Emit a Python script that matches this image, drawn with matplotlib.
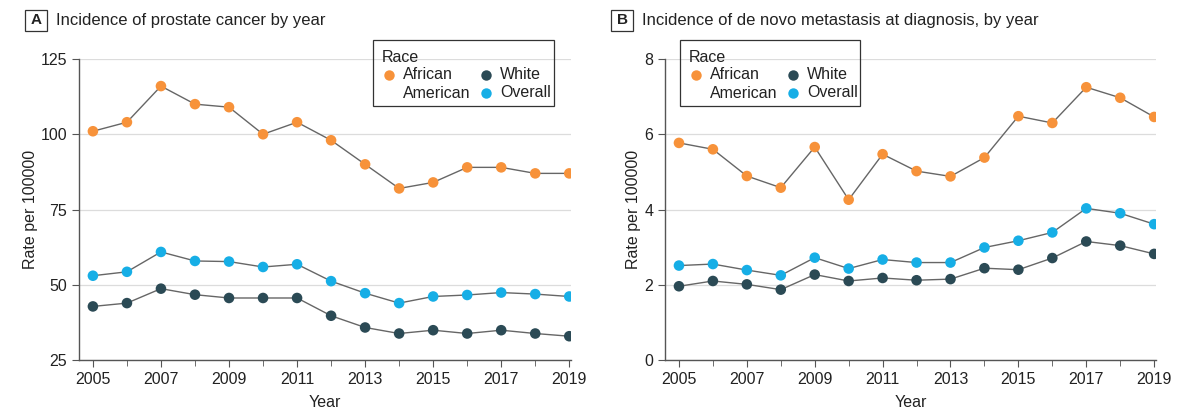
import matplotlib.pyplot as plt
from matplotlib.patches import Rectangle

plt.rcParams['font.family'] = ['Liberation Sans', 'DejaVu Sans']

years = list(range(2005, 2020))

# Panel A: incidence of prostate cancer
inc_aa = [101, 104, 116, 110, 109, 100, 104, 98, 90, 82, 84, 89, 89, 87, 87]
inc_white = [42.8, 43.9, 48.7, 46.7, 45.6, 45.6, 45.6, 39.7, 35.8, 33.8, 34.9, 33.8, 34.9, 33.8, 32.9]
inc_all = [53.0, 54.3, 60.9, 57.9, 57.7, 55.9, 56.8, 51.2, 47.2, 43.9, 46.1, 46.6, 47.4, 46.9, 46.1]

# Panel B: de novo metastasis at diagnosis
met_aa = [5.77, 5.60, 4.89, 4.58, 5.66, 4.26, 5.47, 5.02, 4.88, 5.38, 6.48, 6.30, 7.25, 6.97, 6.46]
met_white = [1.96, 2.10, 2.01, 1.87, 2.27, 2.10, 2.18, 2.12, 2.15, 2.44, 2.40, 2.71, 3.15, 3.04, 2.82]
met_all = [2.51, 2.55, 2.39, 2.25, 2.72, 2.43, 2.67, 2.59, 2.59, 2.99, 3.17, 3.39, 4.03, 3.90, 3.61]

labels = ['African\nAmerican', 'White', 'Overall']

c_aa = '#F7923A'
c_white = '#2B4A55'
c_all = '#16AEE6'
c_line = '#666666'
c_text = '#222222'

W, H = 1200, 417
fig = plt.figure(figsize=(12, 4.17), dpi=100)


def fx(px):
    return px / W


def fy(py):
    return 1 - py / H


def legend_box(x0, w):
    # hand-built legend: "Race" title, two columns
    fig.patches.append(Rectangle((fx(x0), fy(106)), fx(w), 66 / H, transform=fig.transFigure,
                                 fill=False, edgecolor='#333333', lw=0.9))
    fig.text(fx(x0 + 9), fy(58), 'Race', fontsize=11.5, ha='left', va='center', color=c_text)
    cols = [c_aa, c_white, c_all]
    pos = [(x0 + 16, 75), (x0 + 113, 75), (x0 + 113, 93)]
    for col, lab, (mx, my) in zip(cols, labels, pos):
        fig.lines.append(plt.Line2D([fx(mx)], [fy(my)], marker='o', ms=7.5, color=col, mec='none',
                                    ls='none', transform=fig.transFigure))
        fig.text(fx(mx + 14), fy(my - 8), lab, fontsize=11.5, ha='left', va='top', color=c_text,
                 linespacing=1.3)


def panel(rect, letter, title, series, yticks, ylim, leg_x, leg_w):
    ax = fig.add_axes(rect)
    for vals, col in series:
        ax.plot(years, vals, color=c_line, lw=1.0, zorder=2)
        ax.scatter(years, vals, s=58, color=col, zorder=3, edgecolors='none')
    ax.set_xlim(2004.59, 2019.05)
    ax.set_ylim(*ylim)
    ax.set_yticks(yticks)
    ax.set_xticks(years, minor=True)
    ax.set_xticks(range(2005, 2020, 2))
    ax.tick_params(axis='both', which='both', direction='out', color='#555555', labelcolor=c_text, labelsize=11.5)
    ax.tick_params(axis='x', which='major', length=5)
    ax.tick_params(axis='x', which='minor', length=4)
    ax.tick_params(axis='y', length=5)
    ax.grid(axis='y', color='#dcdcdc', lw=0.9, zorder=0)
    ax.set_axisbelow(True)
    for s in ['top', 'right']:
        ax.spines[s].set_visible(False)
    for s in ['left', 'bottom']:
        ax.spines[s].set_color('#555555')
        ax.spines[s].set_linewidth(1.0)
    ax.set_xlabel('Year', fontsize=11.5, color=c_text, labelpad=6)
    ax.set_ylabel('Rate per 100000', fontsize=11.5, color=c_text, labelpad=2)
    legend_box(leg_x, leg_w)
    # panel letter box and title
    x0 = fx(rect[0] * W - 54)
    fig.text(x0 + fx(11), fy(20.5), letter, fontsize=11, fontweight='bold', ha='center', va='center', color=c_text)
    fig.patches.append(Rectangle((x0, fy(31)), fx(22), 21 / H, transform=fig.transFigure,
                                 fill=False, edgecolor='#333333', lw=0.9))
    fig.text(x0 + fx(31), fy(20), title, fontsize=12, ha='left', va='center', color=c_text)
    return ax


panel([0.0658, 0.1367, 0.410, 0.7218], 'A', 'Incidence of prostate cancer by year',
      [(inc_aa, c_aa), (inc_white, c_white), (inc_all, c_all)],
      [25, 50, 75, 100, 125], (25, 125), 373, 181)
panel([0.5542, 0.1367, 0.409, 0.7218], 'B', 'Incidence of de novo metastasis at diagnosis, by year',
      [(met_aa, c_aa), (met_white, c_white), (met_all, c_all)],
      [0, 2, 4, 6, 8], (0, 8), 680, 180)

fig.savefig('out.png', dpi=100)
